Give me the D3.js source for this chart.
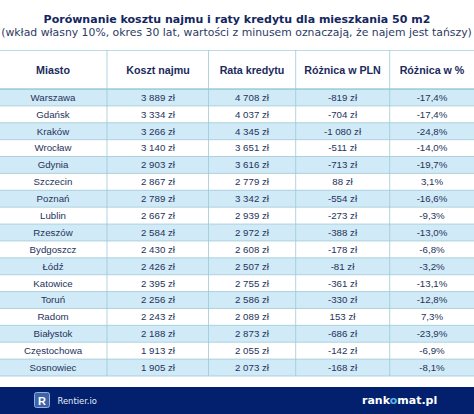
<!DOCTYPE html>
<html>
<head>
<meta charset="utf-8">
<script src="https://cdn.jsdelivr.net/npm/d3@7"></script>
<style>
  html, body { margin: 0; padding: 0; background: #fff; }
  svg { display: block; }
</style>
</head>
<body>
<div id="chart"></div>
<script>
const headers = ["Miasto", "Koszt najmu", "Rata kredytu", "Różnica w PLN", "Różnica w %"];
const cities = ["Warszawa", "Gdańsk", "Kraków", "Wrocław", "Gdynia", "Szczecin", "Poznań", "Lublin", "Rzeszów", "Bydgoszcz", "Łódź", "Katowice", "Toruń", "Radom", "Białystok", "Częstochowa", "Sosnowiec"];
const rent = [3889, 3334, 3266, 3140, 2903, 2867, 2789, 2667, 2584, 2430, 2426, 2395, 2256, 2243, 2188, 1913, 1905];
const credit = [4708, 4037, 4345, 3651, 3616, 2779, 3342, 2939, 2972, 2608, 2507, 2755, 2586, 2089, 2873, 2055, 2073];
const diffPln = [-819, -704, -1080, -511, -713, 88, -554, -273, -388, -178, -81, -361, -330, 153, -686, -142, -168];
const diffPct = [-17.4, -17.4, -24.8, -14.0, -19.7, 3.1, -16.6, -9.3, -13.0, -6.8, -3.2, -13.1, -12.8, 7.3, -23.9, -6.9, -8.1];

const width = 474, height = 414;
const navy = "#1b2a5c", rowBlue = "#d1eaf7", lineBlue = "#9cc8d6", footerBlue = "#02206e";

// Polish number format: space for thousands, comma for decimals
const pl = d3.formatLocale({ decimal: ",", thousands: " ", grouping: [3], currency: ["", " zł"], minus: "-" });
const fmtZl = pl.format("$,d");
const fmtPct = v => pl.format(".1f")(v) + "%";

const svg = d3.select("#chart").append("svg")
    .attr("width", width)
    .attr("height", height);

// Row and column scales
const y = d3.scaleBand().domain(d3.range(cities.length)).range([89, 376]);
const colEdges = [0, 107, 208.5, 295.7, 389.7, 474];
const colX = d3.scaleOrdinal().domain(headers).range([53, 158, 252, 342.5, 432]);

// Title
svg.append("text")
    .attr("x", 237).attr("y", 22.5)
    .attr("text-anchor", "middle")
    .attr("font-family", "DejaVu Sans")
    .attr("font-weight", 700)
    .attr("font-size", 11)
    .attr("fill", "#14265f")
    .text("Porównanie kosztu najmu i raty kredytu dla mieszkania 50 m2");

svg.append("text")
    .attr("x", 236.5).attr("y", 36)
    .attr("text-anchor", "middle")
    .attr("font-family", "DejaVu Sans")
    .attr("font-size", 10.85)
    .attr("fill", "#2e3a63")
    .text("(wkład własny 10%, okres 30 lat, wartości z minusem oznaczają, że najem jest tańszy)");

// Striped rows
svg.append("g").selectAll("rect")
  .data(cities)
  .join("rect")
    .attr("x", 0)
    .attr("y", (d, i) => y(i))
    .attr("width", width)
    .attr("height", y.bandwidth())
    .attr("fill", (d, i) => i % 2 === 0 ? rowBlue : "#fff");

// Horizontal rules
svg.append("g").selectAll("line")
  .data(cities)
  .join("line")
    .attr("x1", 0).attr("x2", width)
    .attr("y1", (d, i) => y(i) + y.bandwidth())
    .attr("y2", (d, i) => y(i) + y.bandwidth())
    .attr("stroke", lineBlue)
    .attr("stroke-width", 0.8);

svg.append("line")
    .attr("x1", 0).attr("x2", width)
    .attr("y1", 50.5).attr("y2", 50.5)
    .attr("stroke", "#bcdbe4");

svg.append("line")
    .attr("x1", 0).attr("x2", width)
    .attr("y1", 89).attr("y2", 89)
    .attr("stroke", "#6fb6c6")
    .attr("stroke-width", 1.2);

// Vertical rules
svg.append("g").selectAll("line")
  .data(colEdges.slice(1, -1))
  .join("line")
    .attr("x1", d => d).attr("x2", d => d)
    .attr("y1", 50).attr("y2", 376)
    .attr("stroke", lineBlue)
    .attr("stroke-width", 0.8);

// Header labels
svg.append("g").selectAll("text")
  .data(headers)
  .join("text")
    .attr("x", d => colX(d))
    .attr("y", 74)
    .attr("text-anchor", "middle")
    .attr("font-family", "Liberation Sans")
    .attr("font-weight", 700)
    .attr("font-size", 10.7)
    .attr("fill", navy)
    .text(d => d);

// Table cells, one group per row
const rows = svg.append("g").selectAll("g")
  .data(cities)
  .join("g")
    .attr("transform", (d, i) => `translate(0,${y(i) + y.bandwidth() / 2 + 3.4})`);

rows.selectAll("text")
  .data((d, i) => [d, fmtZl(rent[i]), fmtZl(credit[i]), fmtZl(diffPln[i]), fmtPct(diffPct[i])])
  .join("text")
    .attr("x", (d, j) => colX(headers[j]))
    .attr("text-anchor", "middle")
    .attr("font-family", "Liberation Sans")
    .attr("font-size", 9.7)
    .attr("fill", "#25335a")
    .text(d => d);

// Footer band with the two brands
svg.append("rect")
    .attr("x", 0).attr("y", 387)
    .attr("width", width).attr("height", height - 387)
    .attr("fill", footerBlue);

svg.append("rect")
    .attr("x", 34.5).attr("y", 392.5)
    .attr("width", 15).attr("height", 15).attr("rx", 2)
    .attr("fill", "#3f63a8")
    .attr("stroke", "#8fb0dc");

svg.append("text")
    .attr("x", 42).attr("y", 404.5)
    .attr("text-anchor", "middle")
    .attr("font-family", "Liberation Sans")
    .attr("font-weight", 700)
    .attr("font-size", 11)
    .attr("fill", "#fff")
    .text("R");

svg.append("text")
    .attr("x", 57.5).attr("y", 403.5)
    .attr("font-family", "DejaVu Sans")
    .attr("font-weight", 400)
    .attr("font-size", 8.4)
    .attr("fill", "#e8eefa")
    .text("Rentier.io");

const brand = svg.append("text")
    .attr("x", 362).attr("y", 404)
    .attr("font-family", "DejaVu Sans")
    .attr("font-weight", 700)
    .attr("font-size", 11)
    .attr("fill", "#fff");
brand.append("tspan").text("rank");
brand.append("tspan").attr("fill", "#58b7e8").text("o");
brand.append("tspan").text("mat.pl");
</script>
</body>
</html>
